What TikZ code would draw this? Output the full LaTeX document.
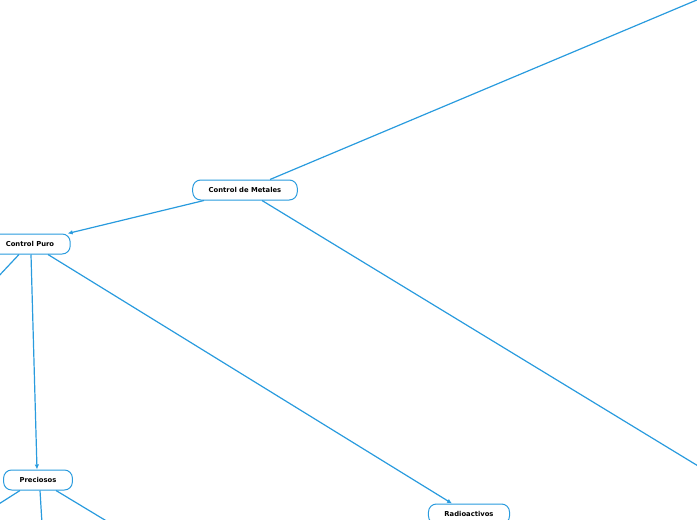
\documentclass[tikz,border=0pt]{standalone}
\usepackage{fontspec}
\setsansfont{DejaVu Sans}
\usetikzlibrary{arrows.meta}
\definecolor{mapblue}{RGB}{41,155,222}
\tikzset{
	topic/.style={draw=mapblue,fill=white,rounded corners=8pt,line width=1pt,minimum height=20pt,inner xsep=16pt,inner ysep=0pt,font=\sffamily\bfseries\fontsize{6.8}{8}\selectfont},
	link/.style={draw=mapblue,line width=1.2pt}
}
\begin{document}
\begin{tikzpicture}[x=1pt,y=-1pt,>={Latex[length=5pt,width=4.5pt]}]
		\path[use as bounding box,clip] (0,0) rectangle (697,520);

		\node (metales)  [topic] at (245,190) {Control de Metales};
		\node (puro)     [topic] at (30,244)  {Control Puro};
		\node (preciosos)[topic] at (38,480)  {Preciosos};
		\node (radio)    [topic] at (469,514) {Radioactivos};

		% ramas que salen del recuadro
		\coordinate (offTR)  at (800,-43.4);
		\coordinate (offBR)  at (800,528);
		\coordinate (offP)   at (-20,296);
		\coordinate (offPa)  at (-20,516);
		\coordinate (offPb)  at (43,540);
		\coordinate (offPc)  at (138,540);

		\draw [link] ([xshift=25pt]metales.north) -- (offTR);
		\draw [link] ([xshift=17pt]metales.south) -- (offBR);
		\draw [link,->] ([xshift=-41pt]metales.south) -- ([xshift=-3pt]puro.north east);
		\draw [link] ([xshift=-11pt]puro.south) -- (offP);
		\draw [link,->] ([xshift=1pt]puro.south) -- ([xshift=-1pt]preciosos.north);
		\draw [link,->] ([xshift=18pt]puro.south) -- ([xshift=-17pt]radio.north);
		\draw [link] ([xshift=-18pt]preciosos.south) -- (offPa);
		\draw [link] ([xshift=2pt]preciosos.south) -- (offPb);
		\draw [link] ([xshift=18pt]preciosos.south) -- (offPc);
	\end{tikzpicture}
\end{document}
